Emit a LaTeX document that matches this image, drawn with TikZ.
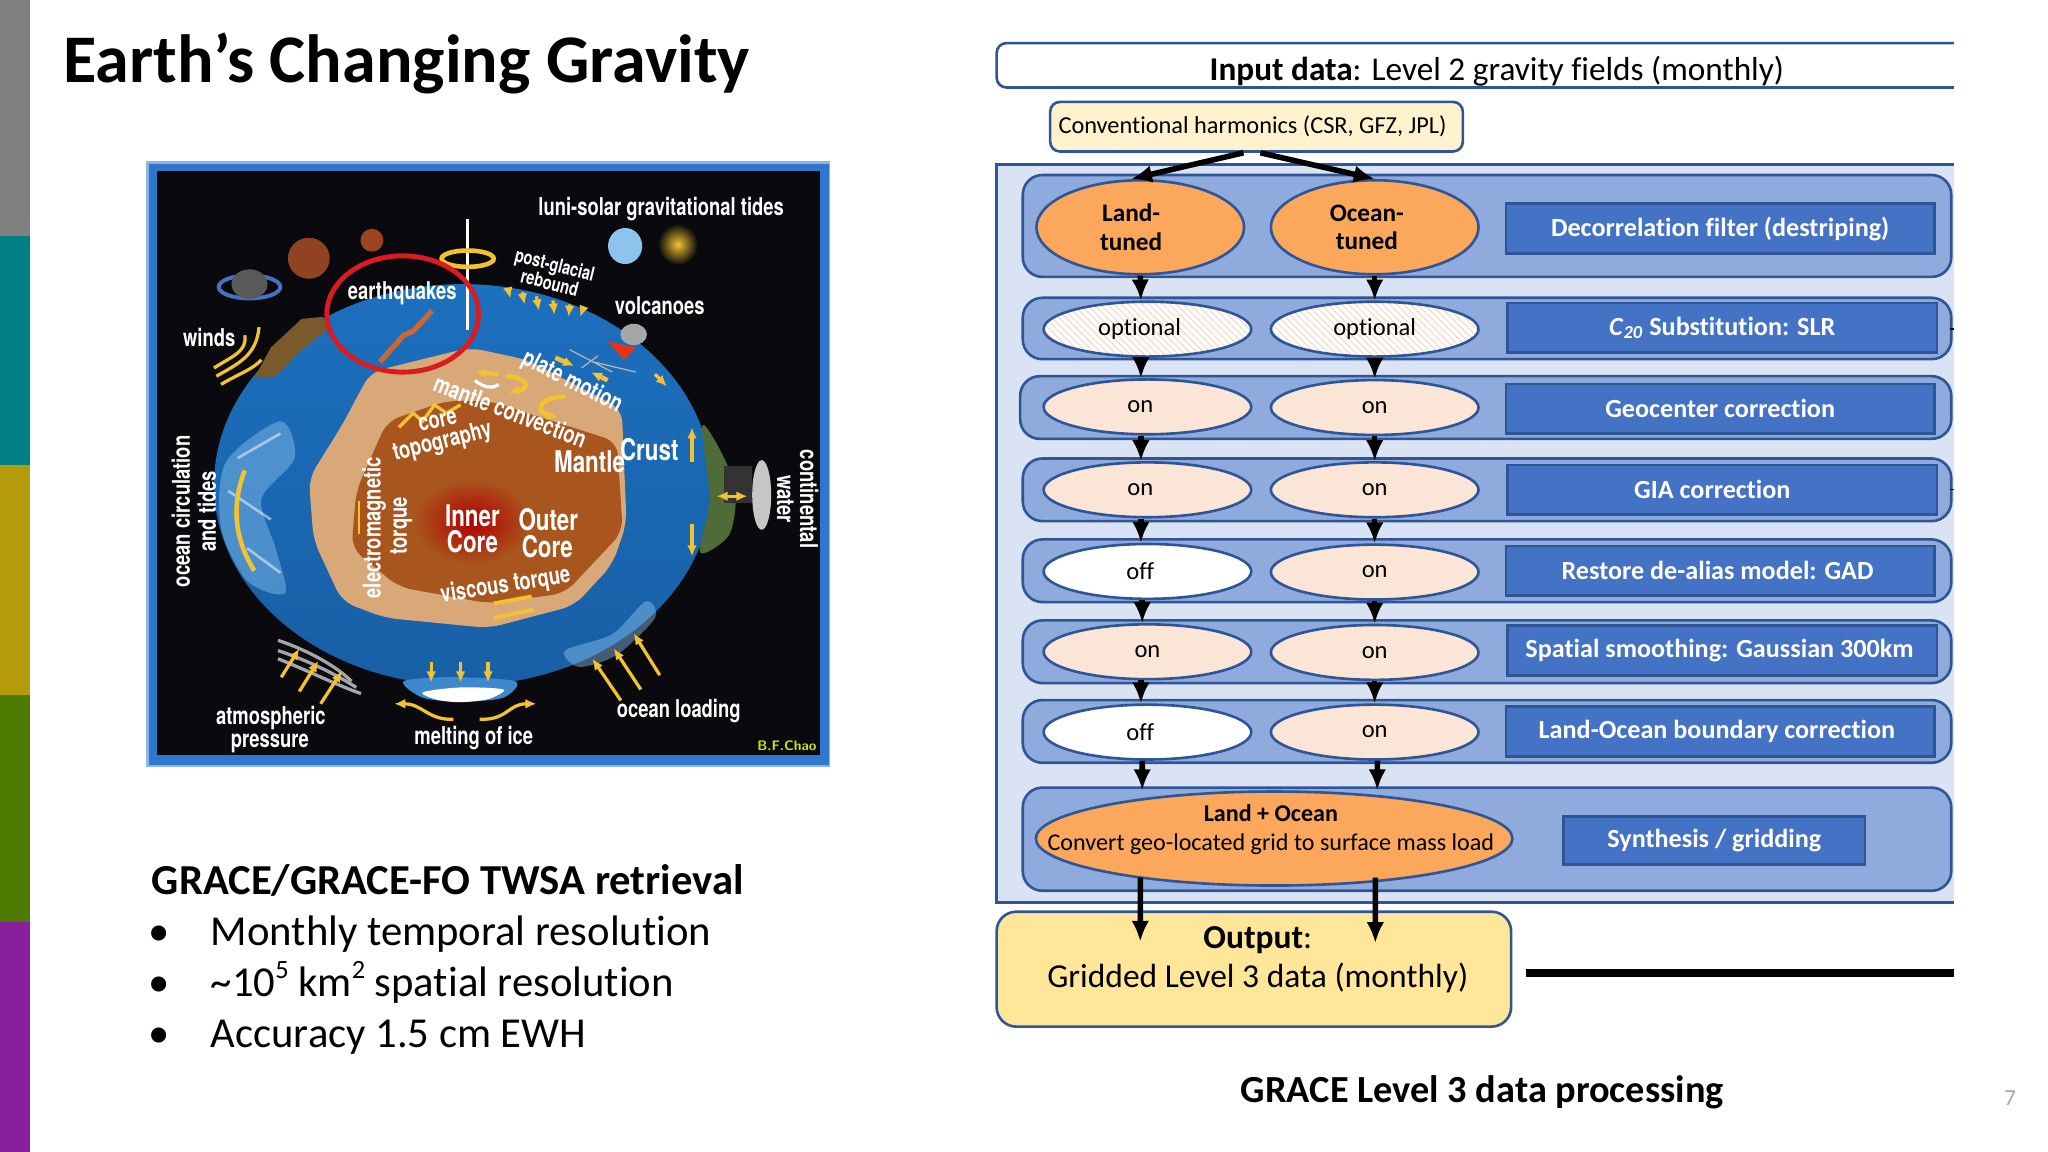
\documentclass[tikz,border=0pt]{standalone}
\usepackage{fontspec}
\setmainfont{Carlito}[Ligatures=NoCommon]
\newfontfamily\earthfont[FakeStretch=0.75]{TeX Gyre Heros}
\usetikzlibrary{arrows.meta,shapes.geometric,patterns}
\definecolor{stripegrey}{HTML}{808080}
\definecolor{stripeteal}{HTML}{007F85}
\definecolor{stripegold}{HTML}{B39B0B}
\definecolor{stripegreen}{HTML}{4F7A00}
\definecolor{stripepurple}{HTML}{87219B}
\definecolor{edgeblue}{HTML}{2F5597}
\definecolor{panelblue}{HTML}{DAE3F3}
\definecolor{rowblue}{HTML}{8FAADC}
\definecolor{stepblue}{HTML}{4472C4}
\definecolor{tunedorange}{HTML}{FBA75C}
\definecolor{onpeach}{HTML}{FBE5D6}
\definecolor{hatchpeach}{HTML}{F8D5BC}
\definecolor{convcream}{HTML}{FFF2CC}
\definecolor{outputyellow}{HTML}{FFE699}
\definecolor{globeblue}{HTML}{1C70BE}
\definecolor{globedeep}{HTML}{185FA6}
\definecolor{mantletan}{HTML}{D8A878}
\definecolor{coreorange}{HTML}{A9561E}
\definecolor{framesky}{HTML}{2F76CE}
\definecolor{arrowgold}{HTML}{F2C230}
\definecolor{ringred}{HTML}{DA1B22}
\definecolor{nightblack}{HTML}{0A0A0E}
\definecolor{waterlight}{HTML}{8CC4EE}
\definecolor{landolive}{HTML}{4F6B38}
\definecolor{rockbrown}{HTML}{7A5A2C}
\tikzset{
  rowband/.style={rectangle,rounded corners=.3cm,draw=edgeblue,fill=rowblue,line width=.04cm,inner sep=0},
  stepbox/.style={rectangle,draw=edgeblue,fill=stepblue,line width=.04cm,inner sep=0,text=white,font=\fontsize{11.4}{13}\selectfont\bfseries},
  tuned/.style={ellipse,draw=edgeblue,fill=tunedorange,line width=.04cm,inner sep=0,align=center,minimum width=3.18cm,minimum height=1.44cm,font=\fontsize{11}{12.5}\selectfont\bfseries},
  stateon/.style={ellipse,draw=edgeblue,fill=onpeach,line width=.04cm,inner sep=0,minimum width=3.18cm,minimum height=.84cm,font=\fontsize{10.7}{12}\selectfont},
  stateoff/.style={stateon,fill=white},
  stateopt/.style={stateon,preaction={fill=white},fill=none,pattern=north west lines,pattern color=hatchpeach},
  flowarrow/.style={-{Latex[length=.32cm,width=.27cm]},line width=.085cm,black},
  earthlabel/.style={text=white,inner sep=0,font=\earthfont\bfseries\fontsize{10.7}{12}\selectfont},
  earthbig/.style={earthlabel,font=\earthfont\bfseries\fontsize{13}{15}\selectfont},
  earthsmall/.style={earthlabel,font=\earthfont\bfseries\fontsize{8.5}{10}\selectfont},
  goldline/.style={draw=arrowgold,line width=.05cm},
  goldarrow/.style={goldline,-{Latex[length=.17cm,width=.15cm]}},
  bodytext/.style={anchor=base west,inner sep=0,font=\fontsize{18.6}{22}\selectfont},
  bodydot/.style={anchor=base,inner sep=0,font=\fontsize{18.6}{22}\selectfont}
}
\begin{document}
\begin{tikzpicture}[x=.02cm,y=-.02cm]
  \useasboundingbox (0,0) rectangle (1568,882);
  \fill[white] (0,0) rectangle (1568,882);
  \fill[stripegrey] (0,0) rectangle (23,181);
  \fill[stripeteal] (0,181) rectangle (23,356);
  \fill[stripegold] (0,356) rectangle (23,532);
  \fill[stripegreen] (0,532) rectangle (23,706);
  \fill[stripepurple] (0,706) rectangle (23,882);

  \node[anchor=base west,inner sep=0,font=\fontsize{29.7}{33}\selectfont\bfseries] (title) at (48,63) {Earth’s Changing Gravity};
  \node[bodytext,font=\fontsize{18.6}{22}\selectfont\bfseries] (retrieval) at (116,685) {GRACE/GRACE-FO TWSA retrieval};
  \node[bodydot] (dota) at (122,724) {•};
  \node[bodydot] (dotb) at (122,763) {•};
  \node[bodydot] (dotc) at (122,802) {•};
  \node[bodytext] (itema) at (161,724) {Monthly temporal resolution};
  \node[bodytext] (itemb) at (161,763) {\textasciitilde10\raisebox{.42em}{\fontsize{11.5}{12}\selectfont 5} km\raisebox{.42em}{\fontsize{11.5}{12}\selectfont 2} spatial resolution};
  \node[bodytext] (itemc) at (161,802) {Accuracy 1.5 cm EWH};

  \begin{scope}[shift={(91.2,106.2)},x=.00726cm,y=-.00627cm]
    \fill[framesky!55!white] (56,55) rectangle (1500,1535);
    \fill[framesky] (62,62) rectangle (1496,1530);
    \fill[nightblack] (80,80) rectangle (1478,1505);

    \draw[stepblue,line width=.06cm] (275,362) ellipse [x radius=65,y radius=28];
    \fill[gray!70!black] (275,355) ellipse [x radius=38,y radius=36];
    \fill[brown!75!red!70!black] (400,292) ellipse [x radius=44,y radius=50];
    \fill[brown!70!red!75!black] (533,248) ellipse [x radius=24,y radius=28];
    \fill[waterlight] (1067,262) ellipse [x radius=36,y radius=44];
    \shade[inner color=arrowgold,outer color=nightblack] (1178,258) ellipse [x radius=42,y radius=50];

    \fill[top color=globeblue,bottom color=globedeep] (725,845) ellipse [x radius=525,y radius=490];
    \fill[rockbrown] (285,585)--(320,510)--(385,440)--(430,435)--(440,465)--(380,520)--(330,580)--cycle;
    \fill[waterlight,opacity=.45] plot[smooth cycle] coordinates {(340,690) (370,780) (300,880) (330,1000) (350,1110) (270,1080) (215,950) (225,790)};
    \draw[white,opacity=.5,line width=.04cm] (250,780) -- (340,720) (230,860) -- (320,930) (270,1000) -- (340,1060);
    \fill[waterlight,opacity=.45] plot[smooth cycle] coordinates {(940,1250) (1040,1210) (1110,1130) (1130,1170) (1050,1260) (970,1290)};
    \fill[landolive] plot[smooth cycle] coordinates {(1230,700) (1280,790) (1300,880) (1285,970) (1225,1010) (1245,880)};
    \fill[black!80] (1275,800) rectangle (1335,890);
    \fill[gray!45] (1355,870) ellipse [x radius=20,y radius=85];

    \fill[mantletan,rounded corners=.2cm] (530,570)--(740,510)--(860,540)--(1060,660)--(1070,940)--(1040,1040)--(960,1140)--(780,1195)--(560,1170)--(470,1130)--(410,980)--(400,830)--(470,700)--cycle;
    \fill[coreorange,rounded corners=.2cm] (565,690)--(690,640)--(780,640)--(1050,740)--(1062,960)--(940,1110)--(780,1135)--(590,1095)--(490,1000)--(500,860)--cycle;
    \shade[inner color=red!70!black,outer color=coreorange] (745,935) ellipse [x radius=125,y radius=105];

    \fill[globeblue!70!waterlight] plot[smooth cycle] coordinates {(600,1325) (700,1315) (835,1325) (810,1365) (720,1375) (640,1365)};
    \fill[white] plot[smooth cycle] coordinates {(640,1352) (720,1340) (810,1345) (780,1368) (720,1376) (670,1370)};
    \draw[gray!70,line width=.05cm] (335,1225) .. controls (400,1250) and (460,1290) .. (490,1325);
    \draw[gray!70,line width=.05cm] (335,1250) .. controls (400,1275) and (460,1310) .. (500,1340);
    \draw[gray!70,line width=.05cm] (335,1270) .. controls (400,1300) and (460,1335) .. (510,1355);
    \fill[red!60!brown] (1030,495) -- (1090,510) -- (1065,540) -- cycle;
    \fill[gray!70] (1085,478) ellipse [x radius=28,y radius=26];
    \draw[gray!60,line width=.02cm] (950,515) -- (1040,570) (975,560) -- (1010,530) (1000,545) -- (1090,570);

    \draw[white,line width=.05cm] (735,195) -- (735,468);
    \draw[arrowgold,line width=.07cm] (735,293) ellipse [x radius=55,y radius=20];
    \draw[brown!80!red,line width=.08cm] (550,545) -- (600,480) -- (620,470) -- (660,420);
    \draw[ringred,line width=.075cm] (598,428) ellipse [x radius=160,y radius=142];

    \draw[goldarrow] (820,365) -- (825,390);
    \draw[goldarrow] (850,375) -- (855,405);
    \draw[goldarrow] (880,385) -- (885,420);
    \draw[goldarrow] (915,395) -- (918,430);
    \draw[goldarrow] (950,405) -- (948,435);
    \draw[goldarrow] (980,410) -- (972,435);
    \draw[goldline] (205,580) .. controls (250,550) and (290,530) .. (295,460);
    \draw[goldline] (200,560) .. controls (240,530) and (270,520) .. (265,480);
    \draw[goldline] (215,600) .. controls (250,575) and (280,565) .. (300,540);
    \draw[goldline,line width=.07cm] (265,810) .. controls (235,900) and (245,980) .. (285,1055);
    \draw[goldline] (590,705) -- (620,670) -- (640,690) -- (665,650) -- (690,670) -- (720,650);
    \draw[goldline,line width=.03cm] (505,885) -- (505,965);
    \draw[goldarrow] (1208,790) -- (1208,705);
    \draw[goldarrow] (1208,940) -- (1208,1020);
    \draw[goldarrow,{Latex[length=.17cm,width=.15cm]}-{Latex[length=.17cm,width=.15cm]}] (1260,873) -- (1325,873);
    \draw[goldline,line width=.06cm] (790,1135) -- (870,1118);
    \draw[goldline,line width=.06cm] (790,1170) -- (875,1150);
    \draw[goldarrow,line width=.07cm] (800,575) -- (750,570);
    \draw[white,line width=.05cm] (750,590) .. controls (770,610) and (790,610) .. (800,600);
    \draw[goldarrow,line width=.07cm] (815,580) .. controls (860,580) and (870,610) .. (820,620);
    \draw[goldarrow,line width=.07cm] (940,630) .. controls (880,630) and (880,670) .. (925,680);
    \draw[goldarrow,line width=.07cm] (920,535) -- (960,555);
    \draw[goldarrow,line width=.07cm] (1030,590) -- (995,570);
    \draw[goldarrow,line width=.05cm] (1130,575) -- (1155,605);
    \draw[goldarrow] (1058,1372) -- (998,1270);
    \draw[goldarrow] (1100,1345) -- (1043,1245);
    \draw[goldarrow] (1140,1310) -- (1085,1208);
    \draw[goldarrow] (658,1278) -- (658,1328);
    \draw[goldarrow] (720,1278) -- (720,1328);
    \draw[goldarrow] (778,1278) -- (778,1328);
    \draw[goldarrow] (705,1418) .. controls (650,1420) and (640,1380) .. (580,1380);
    \draw[goldarrow] (760,1418) .. controls (820,1420) and (820,1380) .. (880,1380);
    \draw[goldarrow] (342,1315) -- (380,1245);
    \draw[goldarrow] (380,1350) -- (420,1275);
    \draw[goldarrow] (425,1380) -- (470,1300);

    \node[earthlabel] (tides) at (1143,172) {luni-solar gravitational tides};
    \node[earthsmall,rotate=-14] (glacial) at (918,312) {post-glacial};
    \node[earthsmall,rotate=-14] (rebound) at (908,352) {rebound};
    \node[earthlabel] (earthquakes) at (597,378) {earthquakes};
    \node[earthlabel] (volcanoes) at (1140,408) {volcanoes};
    \node[earthlabel] (winds) at (190,485) {winds};
    \node[earthlabel,rotate=-27] (plate) at (955,595) {plate motion};
    \node[earthlabel,rotate=-21] (convection) at (825,665) {mantle convection};
    \node[earthlabel,rotate=12] (coretop) at (672,690) {core};
    \node[earthlabel,rotate=14] (topography) at (682,742) {topography};
    \node[earthbig] (mantle) at (992,790) {Mantle};
    \node[earthbig] (crust) at (1118,760) {Crust};
    \node[earthlabel,rotate=90] (circulation) at (130,910) {ocean circulation};
    \node[earthlabel,rotate=90] (andtides) at (185,910) {and tides};
    \node[earthlabel,rotate=-90] (continental) at (1455,880) {continental};
    \node[earthlabel,rotate=-90] (water) at (1405,880) {water};
    \node[earthlabel,rotate=90] (electro) at (538,950) {electromagnetic};
    \node[earthlabel,rotate=90] (torque) at (595,945) {torque};
    \node[earthbig] (inner) at (745,920) {Inner};
    \node[earthbig] (innercore) at (745,985) {Core};
    \node[earthbig] (outer) at (905,930) {Outer};
    \node[earthbig] (outercore) at (903,995) {Core};
    \node[earthlabel,rotate=9] (viscous) at (815,1092) {viscous torque};
    \node[earthlabel] (atmos) at (320,1415) {atmospheric};
    \node[earthlabel] (pressure) at (318,1478) {pressure};
    \node[earthlabel] (melting) at (748,1463) {melting of ice};
    \node[earthlabel] (loading) at (1180,1398) {ocean loading};
    \node[inner sep=0,text=yellow!80!green,font=\sffamily\bfseries\fontsize{6}{7}\selectfont] (chao) at (1408,1482) {B.F.Chao};
  \end{scope}

  \begin{scope}
    \clip (750,20) rectangle (1496,800);
    \node[rowband,rounded corners=.15cm,fill=white,minimum width=15.14cm,minimum height=.68cm] (input) at (1141.5,50) {};
    \node[rectangle,draw=edgeblue,fill=panelblue,line width=.04cm,minimum width=15.14cm,minimum height=11.3cm,inner sep=0] (panel) at (1141.5,408.5) {};
    \node[rowband,minimum width=14.22cm,minimum height=1.56cm] (rowa) at (1138.5,173) {};
    \node[rowband,minimum width=14.22cm,minimum height=.94cm] (rowb) at (1138.5,251.5) {};
    \node[rowband,minimum width=14.26cm,minimum height=.96cm] (rowc) at (1137.5,312) {};
    \node[rowband,minimum width=14.22cm,minimum height=.96cm] (rowd) at (1138.5,375) {};
    \node[rowband,minimum width=14.22cm,minimum height=.96cm] (rowe) at (1138.5,437) {};
    \node[rowband,minimum width=14.22cm,minimum height=.96cm] (rowf) at (1138.5,499) {};
    \node[rowband,minimum width=14.22cm,minimum height=.96cm] (rowg) at (1138.5,560) {};
    \node[rowband,minimum width=14.22cm,minimum height=1.58cm] (rowh) at (1138.5,642.5) {};
  \end{scope}

  \node[inner sep=0,font=\fontsize{14.5}{17}\selectfont] (inputtext) at (1146,54.5) {\textbf{Input data}: Level 2 gravity fields (monthly)};
  \node[rectangle,rounded corners=.15cm,draw=edgeblue,fill=convcream,line width=.04cm,inner sep=0,minimum width=6.32cm,minimum height=.76cm,font=\fontsize{10.6}{12}\selectfont] (conv) at (962,97) {Conventional harmonics (CSR, GFZ, JPL)\hspace*{.12cm}};

  \node[tuned] (land) at (873,174) {Land-\hspace*{.28cm}\\tuned\hspace*{.28cm}};
  \node[tuned] (ocean) at (1052.5,174) {Ocean-\hspace*{.24cm}\\tuned\hspace*{.24cm}};
  \node[stateopt] (opta) at (878.5,252) {optional\hspace*{.24cm}};
  \node[stateopt] (optb) at (1052.5,252) {optional};
  \node[stateon] (ona) at (878.5,311.5) {on\hspace*{.22cm}};
  \node[stateon] (onb) at (1052.5,312) {on};
  \node[stateon] (gia) at (878.5,375) {on\hspace*{.22cm}};
  \node[stateon] (gib) at (1052.5,375) {on};
  \node[stateoff] (gada) at (878.5,437.5) {off\hspace*{.22cm}};
  \node[stateon] (gadb) at (1052.5,438) {on};
  \node[stateon] (smootha) at (878.5,499) {on};
  \node[stateon] (smoothb) at (1052.5,499.5) {on};
  \node[stateoff] (bounda) at (878.5,560.5) {off\hspace*{.22cm}};
  \node[stateon] (boundb) at (1052.5,560.5) {on};
  \node[tuned,minimum width=7.3cm] (convert) at (975.5,642) {};
  \node[inner sep=0,align=center,font=\fontsize{10.5}{12.5}\selectfont] (converttext) at (973,635) {\textbf{Land + Ocean}\\Convert geo-located grid to surface mass load};

  \node[stepbox,minimum width=6.56cm,minimum height=.76cm] (decor) at (1317,175) {\raisebox{-1pt}{Decorrelation filter (destriping)}};
  \node[stepbox,minimum width=6.58cm,minimum height=.76cm] (subst) at (1318.5,251) {\raisebox{-1.5pt}{\textit{C}\textsubscript{\textit{20}} Substitution: SLR}};
  \node[stepbox,minimum width=6.56cm,minimum height=.76cm] (geoc) at (1317,313) {Geocenter correction};
  \node[stepbox,minimum width=6.58cm,minimum height=.76cm] (giac) at (1318.5,375) {GIA correction\hspace*{.3cm}};
  \node[stepbox,minimum width=6.56cm,minimum height=.76cm] (gadm) at (1317,437) {Restore de-alias model: GAD\hspace*{.08cm}};
  \node[stepbox,minimum width=6.58cm,minimum height=.76cm] (smooth) at (1318.5,498) {Spatial smoothing: Gaussian 300km\hspace*{.08cm}};
  \node[stepbox,minimum width=6.56cm,minimum height=.76cm] (bound) at (1317,560) {Land-Ocean boundary correction\hspace*{.1cm}};
  \node[stepbox,minimum width=4.62cm,minimum height=.74cm] (synth) at (1312.5,643.5) {Synthesis / gridding};

  \node[rectangle,rounded corners=.3cm,draw=edgeblue,fill=outputyellow,line width=.04cm,inner sep=0,minimum width=7.88cm,minimum height=1.76cm] (output) at (960,742) {};
  \node[inner sep=0,align=center,font=\fontsize{14.6}{17}\selectfont] (outputtext) at (963,735) {\textbf{Output}:\\Gridded Level 3 data (monthly)};

  \draw[flowarrow] ([xshift=-.2cm]conv.south) -- ([xshift=-.14cm]land.north);
  \draw[flowarrow] ([xshift=.06cm]conv.south) -- (ocean.north);
  \draw[flowarrow] (land.south) -- ([xshift=-.1cm]opta.north);
  \draw[flowarrow] (ocean.south) -- (optb.north);
  \draw[flowarrow] ([xshift=-.1cm]opta.south) -- ([xshift=-.1cm]ona.north);
  \draw[flowarrow] (optb.south) -- (onb.north);
  \draw[flowarrow] ([xshift=-.1cm]ona.south) -- ([xshift=-.1cm]gia.north);
  \draw[flowarrow] (onb.south) -- (gib.north);
  \draw[flowarrow] ([xshift=-.1cm]gia.south) -- ([xshift=-.1cm]gada.north);
  \draw[flowarrow] (gib.south) -- (gadb.north);
  \draw[flowarrow] ([xshift=-.08cm]gada.south) -- ([xshift=-.08cm]smootha.north);
  \draw[flowarrow] (gadb.south) -- (smoothb.north);
  \draw[flowarrow] ([xshift=-.1cm]smootha.south) -- ([xshift=-.1cm]bounda.north);
  \draw[flowarrow] (smoothb.south) -- (boundb.north);
  \draw[flowarrow] ([xshift=-.08cm]bounda.south) -- ([xshift=-2.02cm]convert.north);
  \draw[flowarrow] ([xshift=.04cm]boundb.south) -- ([xshift=1.58cm]convert.north);
  \draw[flowarrow] ([xshift=-2.05cm,yshift=.14cm]convert.south) -- ([xshift=-1.74cm,yshift=.42cm]output.center);
  \draw[flowarrow] ([xshift=1.55cm,yshift=.14cm]convert.south) -- ([xshift=1.86cm,yshift=.4cm]output.center);

  \coordinate (rulestart) at (1168,745);
  \coordinate (ruleend) at (1496,745);
  \draw[line width=.12cm,black] (rulestart) -- (ruleend);
  \coordinate (ticka) at (1493,252);
  \coordinate (tickb) at (1496,252);
  \coordinate (tickc) at (1493,375);
  \coordinate (tickd) at (1496,375);
  \draw[line width=.02cm,black] (ticka) -- (tickb);
  \draw[line width=.02cm,black] (tickc) -- (tickd);

  \node[inner sep=0,font=\fontsize{16.7}{20}\selectfont\bfseries] (caption) at (1135,836) {GRACE Level 3 data processing};
  \node[inner sep=0,text=gray!70,font=\fontsize{10}{12}\selectfont] (pageno) at (1539,841) {7};
\end{tikzpicture}
\end{document}
